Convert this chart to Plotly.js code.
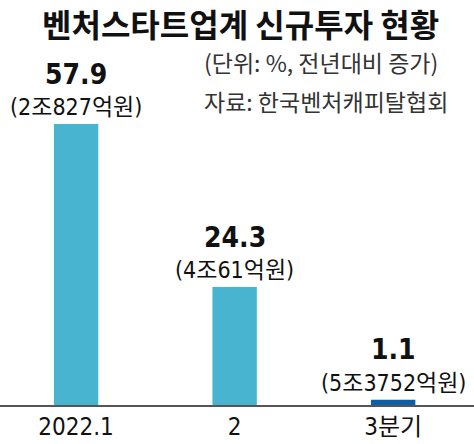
<!DOCTYPE html>
<html>
<head>
<meta charset="utf-8">
<script src="https://cdn.plot.ly/plotly-3.0.1.min.js"></script>
<style>
html,body{margin:0;padding:0;background:#fff}
#chart{width:474px;height:444px}
</style>
</head>
<body>
<div id="chart"></div>
<script>
let periods=["2022.1","2","3분기"]
let growth=[57.9,24.3,1.1]
let amounts=["(2조827억원)","(4조61억원)","(5조3752억원)"]
let colors=["#48b4d0","#48b4d0","#0d5ea8"]

let narrow="DejaVu Sans Condensed, Roboto, Noto Sans CJK KR, sans-serif"
let kr="Noto Sans CJK KR, sans-serif"

let annotations=[]

periods.forEach((p,i)=>{

annotations.push({
x:i,y:growth[i],xref:"x",yref:"y",
text:"<b>"+growth[i].toFixed(1)+"</b>",
showarrow:false,yanchor:"middle",yshift:50,
font:{family:narrow,size:28,color:"#111"}
})

annotations.push({
x:i,y:growth[i],xref:"x",yref:"y",
text:amounts[i],
showarrow:false,yanchor:"middle",yshift:17,
font:{family:narrow,size:23,color:"#111"}
})

})

// title as annotation so it sits right under the top edge
annotations.push({
x:0.507,y:1.36,xref:"paper",yref:"paper",xanchor:"center",yanchor:"middle",
text:"<b>벤처스타트업계 신규투자 현황</b>",showarrow:false,
font:{family:kr,size:32,color:"#111"}
})

annotations.push({
x:0.426,y:1.22,xref:"paper",yref:"paper",xanchor:"left",yanchor:"middle",
text:"(단위: %, 전년대비 증가)",showarrow:false,
font:{family:kr,size:23,color:"#333"}
})

annotations.push({
x:0.426,y:1.082,xref:"paper",yref:"paper",xanchor:"left",yanchor:"middle",
text:"자료: 한국벤처캐피탈협회",showarrow:false,
font:{family:kr,size:23,color:"#333"}
})

Plotly.newPlot("chart",[{
type:"bar",
x:periods,
y:growth,
marker:{color:colors},
hoverinfo:"skip"
}],{
width:474,
height:444,
margin:{l:0,r:0,t:124,b:39},
paper_bgcolor:"#fff",
plot_bgcolor:"#fff",
bargap:0.72,
showlegend:false,
xaxis:{
type:"category",
range:[-0.48,2.51],
showline:true,linecolor:"#555",linewidth:1.5,
showgrid:false,zeroline:false,ticks:"",
tickfont:{family:narrow,size:24,color:"#111"},
fixedrange:true
},
yaxis:{
range:[0,57.9],
visible:false,
fixedrange:true
},
annotations:annotations
},{displayModeBar:false,staticPlot:true})
</script>
</body>
</html>
